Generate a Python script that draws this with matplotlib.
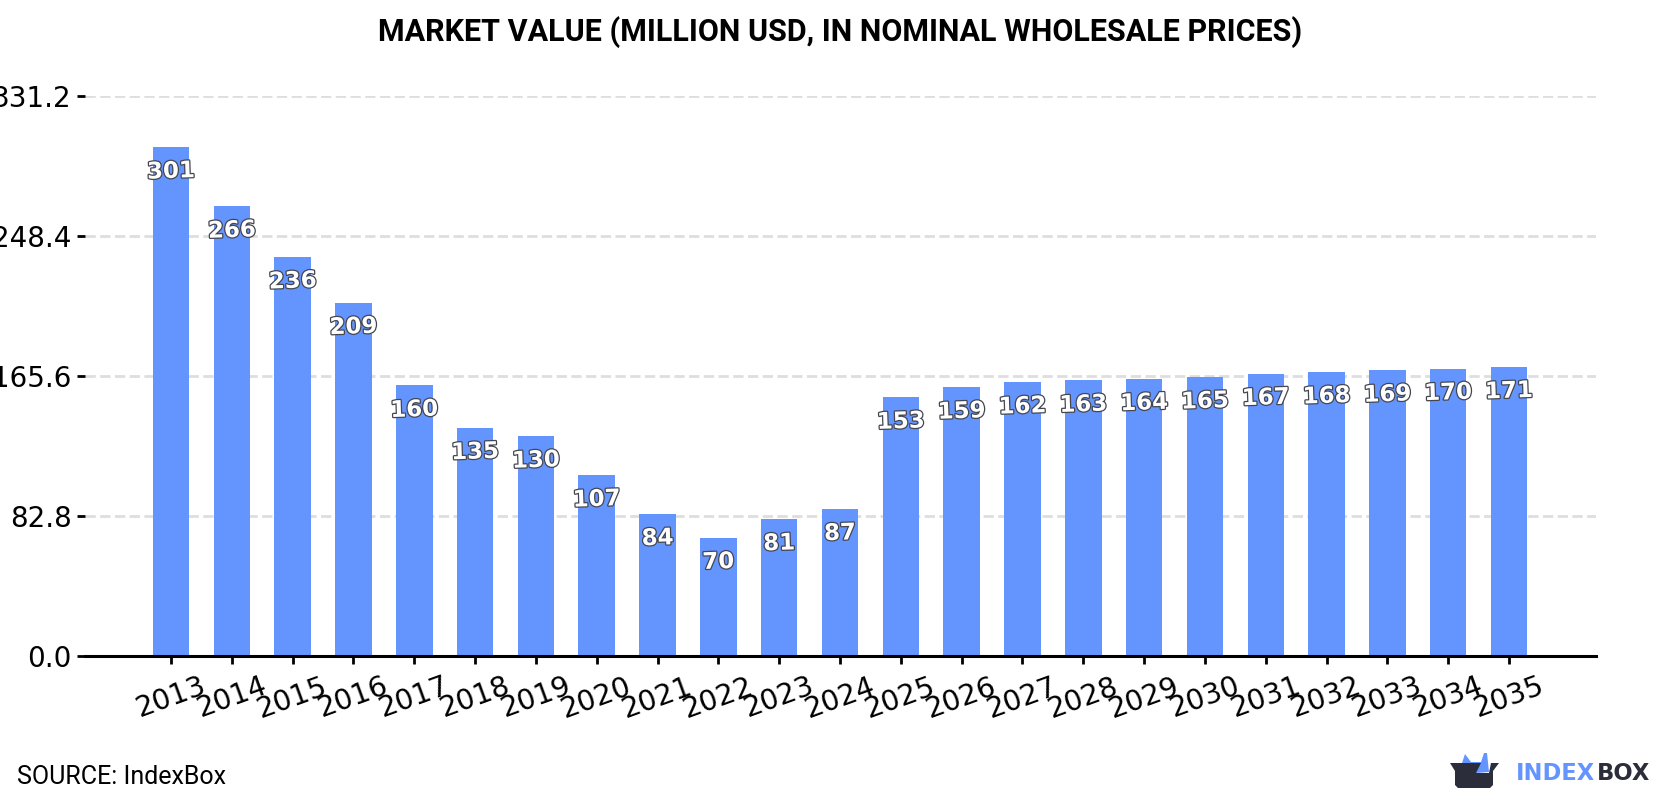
import matplotlib
matplotlib.use('Agg')
import matplotlib.pyplot as plt
import matplotlib.patheffects as pe
from matplotlib.patches import Polygon

years = [2013, 2014, 2015, 2016, 2017, 2018, 2019, 2020, 2021, 2022, 2023, 2024,
         2025, 2026, 2027, 2028, 2029, 2030, 2031, 2032, 2033, 2034, 2035]
values = [301, 266, 236, 209, 160, 135, 130, 107, 84, 70, 81, 87,
          153, 159, 162, 163, 164, 165, 167, 168, 169, 170, 171]
y_ticks = [0.0, 82.8, 165.6, 248.4, 331.2]

W, H = 1680, 800
BAR_COLOR = '#6495ff'
DARK = '#2b2d3a'

fig = plt.figure(figsize=(W / 100, H / 100), dpi=100)
ax = fig.add_axes([85 / W, 1 - 656 / H, (1596 - 85) / W, (656 - 96) / H])

positions = list(range(len(years)))
ax.bar(positions, values, width=0.6, color=BAR_COLOR, zorder=2)
ax.set_xlim(-1.414, 22 + 1.43)
ax.set_ylim(0, 331.2)

ax.set_yticks(y_ticks)
ax.set_yticklabels(['%.1f' % t for t in y_ticks])
ax.set_xticks(positions)
ax.set_xticklabels(years, rotation=20)
ax.tick_params(axis='y', labelsize=20, width=2, length=5.5, pad=4)
ax.tick_params(axis='x', labelsize=20.5, width=2, length=5.5, pad=6)
ax.yaxis.grid(True, linestyle='--', linewidth=2, color='#dedede', zorder=1)
ax.set_axisbelow(True)

for side in ['top', 'right', 'left']:
    ax.spines[side].set_visible(False)
ax.spines['bottom'].set_linewidth(2.2)

# value labels sit just under the top of each bar
outline = [pe.withStroke(linewidth=1.8, foreground='#44464f')]
for x, v in zip(positions, values):
    ax.annotate(str(v), (x, v), xytext=(0, -17.5), textcoords='offset points',
                ha='center', va='center', color='white', fontsize=16.5,
                fontweight='bold', rotation=2, rotation_mode='anchor',
                path_effects=outline, zorder=3)

fig.text(0.5, 1 - 32 / H, 'MARKET VALUE (MILLION USD, IN NOMINAL WHOLESALE PRICES)',
         family='Roboto', fontweight='bold', fontsize=22, ha='center', va='center',
         color='black')
fig.text(17 / W, 1 - 777 / H, 'SOURCE: IndexBox', family='Roboto', fontsize=18,
         ha='left', va='center', color='black')

# logo, drawn in pixel coordinates
logo = fig.add_axes([0, 0, 1, 1], facecolor='none')
logo.set_xlim(0, W)
logo.set_ylim(H, 0)
logo.axis('off')
logo.add_patch(Polygon([(1462, 763), (1465, 754), (1471, 762), (1481, 762), (1484, 753),
                        (1487, 753), (1489, 772), (1476, 773), (1462, 773)],
                       closed=True, color=BAR_COLOR, lw=0))
logo.add_patch(Polygon([(1450, 763), (1481, 763), (1476, 773), (1489, 773), (1491, 763),
                        (1499, 763), (1493, 771), (1493, 785), (1490, 788), (1458, 788),
                        (1455, 785), (1455, 771)],
                       closed=True, color=DARK, lw=0))
logo.text(1516, 774, 'INDEX', family='DejaVu Sans', fontweight='bold', fontsize=16.3,
          color=BAR_COLOR, ha='left', va='center')
logo.text(1597, 774, 'BOX', family='DejaVu Sans', fontweight='bold', fontsize=16.3,
          color=DARK, ha='left', va='center')

fig.savefig('out.png', dpi=100)
